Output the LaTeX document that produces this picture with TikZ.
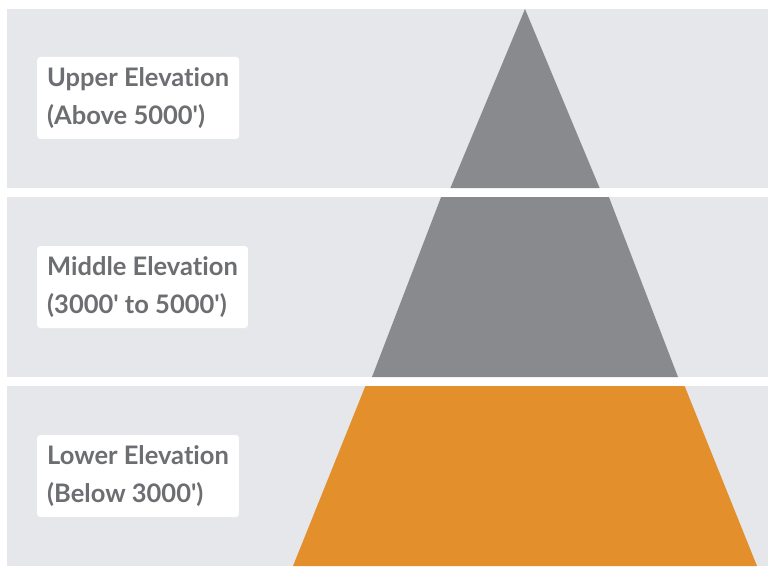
\documentclass[tikz,border=0pt]{standalone}
\usepackage{fontspec}
\setmainfont{Lato}[Ligatures={TeX,NoCommon}]
\definecolor{band}{HTML}{E5E7EA}
\definecolor{peak}{HTML}{898A8D}
\definecolor{orangeseg}{HTML}{E38F2C}
\definecolor{labeltext}{HTML}{6D6E71}
\newcommand{\ft}{\textquotesingle}
\begin{document}
\begin{tikzpicture}[x=1pt,y=-1pt,
  bandbox/.style={fill=band,draw=none},
  labelbox/.style={fill=white,draw=none,rounded corners=3pt,anchor=west,
    align=left,inner xsep=10pt,inner ysep=0pt,minimum height=82pt,
    text=labeltext,font=\fontsize{25.5}{38}\selectfont\bfseries}]
\useasboundingbox (0,0) rectangle (768,575);
\fill[white] (0,0) rectangle (768,575);
% bands
\path[bandbox] (7,9) rectangle (768,188);
\path[bandbox] (7,197) rectangle (768,377);
\path[bandbox] (7,386) rectangle (768,566);
% pyramid segments
\coordinate (apex) at (525,9);
\fill[peak] (apex) -- (599.6,188) -- (450.4,188) -- cycle;
\fill[peak] (441.1,197) -- (608.9,197) -- (678.0,377) -- (372.0,377) -- cycle;
\fill[orangeseg] (365.4,386) -- (684.6,386) -- (757,566) -- (293,566) -- cycle;
% labels
\node[labelbox] (upper) at (37,98) {Upper Elevation\\(Above 5000\ft)};
\node[labelbox] (middle) at (37,287) {Middle Elevation\\(3000\ft{} to 5000\ft)};
\node[labelbox] (lower) at (37,476) {Lower Elevation\\(Below 3000\ft)};
\end{tikzpicture}
\end{document}
